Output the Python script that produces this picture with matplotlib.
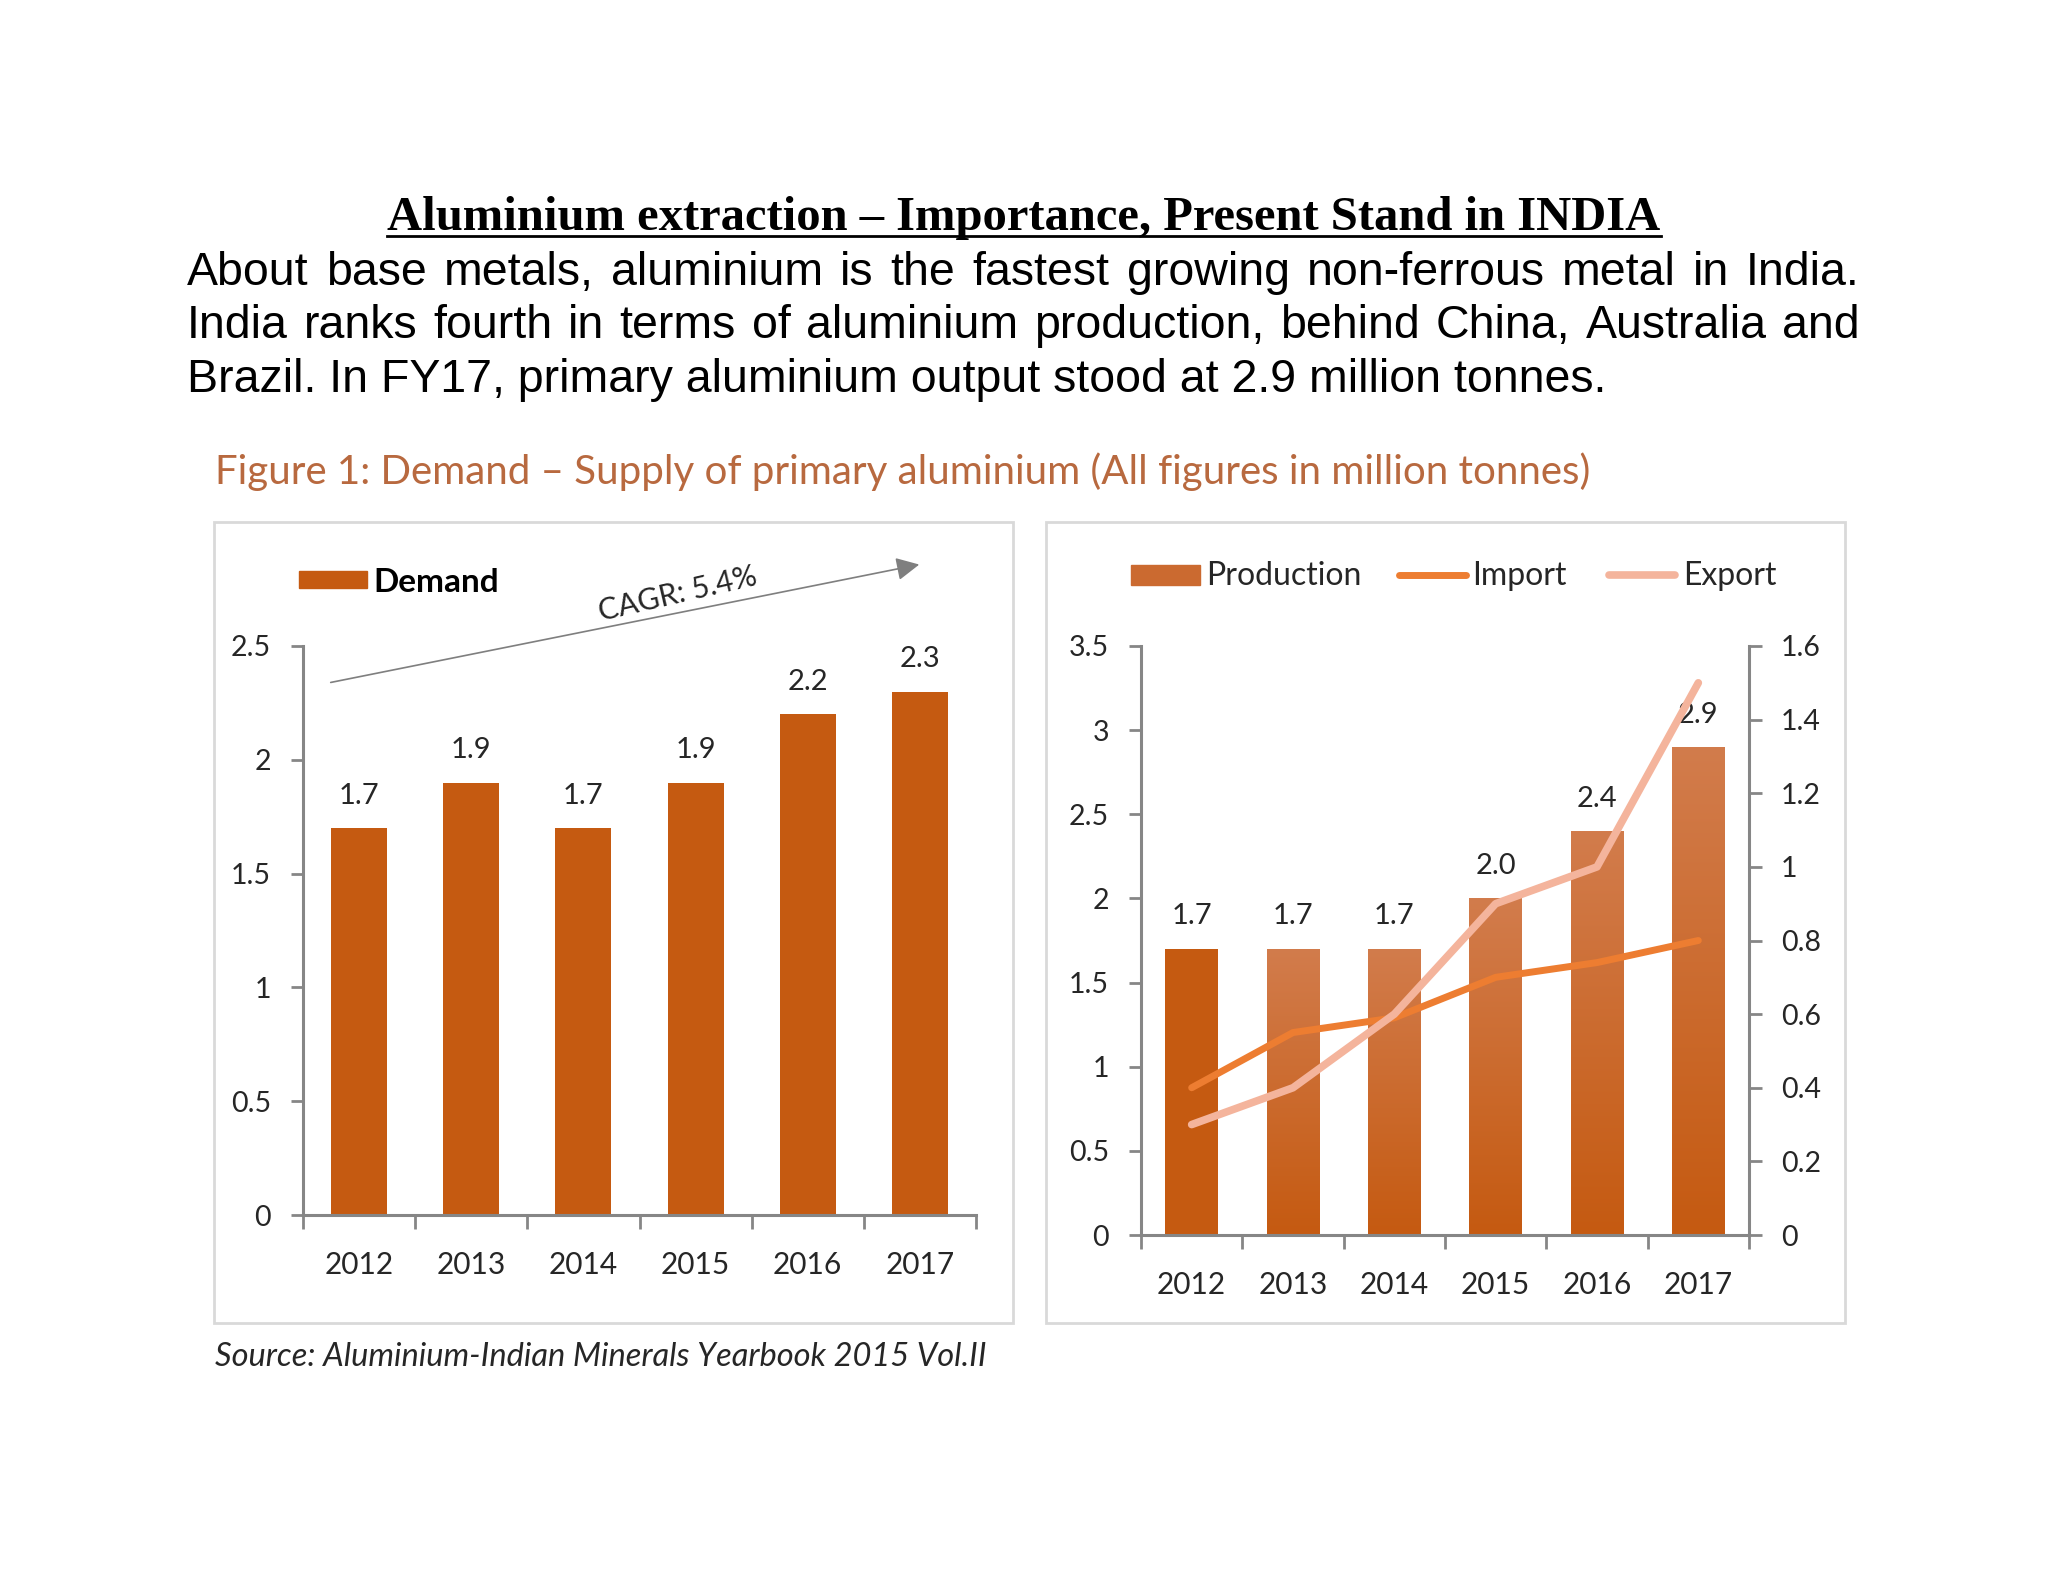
import numpy as np
import matplotlib
matplotlib.use('Agg')
import matplotlib.pyplot as plt
from matplotlib.patches import Rectangle
from matplotlib.lines import Line2D

# ---- data ----
years = ['2012', '2013', '2014', '2015', '2016', '2017']
demand = [1.7, 1.9, 1.7, 1.9, 2.2, 2.3]
production = [1.7, 1.7, 1.7, 2.0, 2.4, 2.9]
imports = [0.40, 0.55, 0.59, 0.70, 0.74, 0.80]
exports = [0.30, 0.40, 0.60, 0.90, 1.00, 1.50]
demand_ticks = [0, 0.5, 1, 1.5, 2, 2.5]
prod_ticks = [0, 0.5, 1, 1.5, 2, 2.5, 3, 3.5]
trade_ticks = [0, 0.2, 0.4, 0.6, 0.8, 1, 1.2, 1.4, 1.6]

title = 'Aluminium extraction \u2013 Importance, Present Stand in INDIA'
para = ['About base metals, aluminium is the fastest growing non-ferrous metal in India.',
        'India ranks fourth in terms of aluminium production, behind China, Australia and',
        'Brazil. In FY17, primary aluminium output stood at 2.9 million tonnes.']
caption = 'Figure 1: Demand \u2013 Supply of primary aluminium (All figures in million tonnes)'
source = 'Source: Aluminium-Indian Minerals Yearbook 2015 Vol.II'

BAR = '#C55A11'
BAR_LIGHT = '#D27C4C'
IMP = '#ED7D31'
EXP = '#F4B49C'
AXC = '#868686'
TXT = '#262626'
CF = 'Lato'

W, H = 2048, 1582
fig = plt.figure(figsize=(W / 100, H / 100), dpi=100)
fig.patch.set_facecolor('white')

def fx(px):
    return px / W

def fy(py):
    return 1 - py / H

# ---- header text ----
t = fig.text(0.5, fy(230), title, ha='center', va='baseline', fontsize=35,
             fontweight='bold', family='Liberation Serif', color='black')
fig.canvas.draw()
r = fig.canvas.get_renderer()
bb = t.get_window_extent(r)
fig.add_artist(Line2D([bb.x0 / W, bb.x1 / W], [fy(236), fy(236)], color='black', lw=2))

# justified paragraph
left, right = 187, 1860
for i, line in enumerate(para):
    yb = fy(285 + i * 53.5)
    words = line.split(' ')
    if i == len(para) - 1:
        fig.text(fx(left), yb, line, fontsize=33.5, family='Liberation Sans', va='baseline')
        continue
    arts = [fig.text(0, yb, w, fontsize=33.5, family='Liberation Sans', va='baseline') for w in words]
    widths = [a.get_window_extent(r).width for a in arts]
    gap = (right - left - sum(widths)) / (len(words) - 1)
    x = left
    for a, w in zip(arts, widths):
        a.set_x(fx(x))
        x += w + gap

fig.text(fx(215), fy(484), caption, fontsize=29, family=CF, color='#B8693F')
fig.text(fx(215), fy(1366), source, fontsize=23.5, family=CF, style='italic', color=TXT)

# panel frames
for x0 in (214, 1046):
    fig.add_artist(Rectangle((fx(x0), fy(1323)), 799 / W, 801 / H, transform=fig.transFigure,
                             fill=False, edgecolor='#D9D9D9', lw=2))

def style_axis(ax, ticks, fmt):
    ax.set_xlim(-0.5, 5.5)
    for s in ('top', 'right'):
        ax.spines[s].set_visible(False)
    for s in ('left', 'bottom'):
        ax.spines[s].set_color(AXC)
        ax.spines[s].set_linewidth(2.2)
    ax.set_yticks(ticks)
    ax.set_yticklabels([fmt(v) for v in ticks], family=CF, fontsize=20.5, color=TXT)
    ax.set_xticks(np.arange(-0.5, 6, 1))
    ax.set_xticklabels([])
    ax.set_xticks(range(6), minor=True)
    ax.set_xticklabels(years, minor=True, family=CF, fontsize=21.5, color=TXT)
    ax.tick_params(axis='x', which='major', length=10, width=2, color=AXC, direction='out')
    ax.tick_params(axis='x', which='minor', length=0, pad=26)
    ax.tick_params(axis='y', length=9, width=2, color=AXC, pad=14)

def num(v):
    return ('%g' % v)

# ---- left chart: demand ----
ax1 = fig.add_axes([fx(303), fy(1215), fx(976) - fx(303), fy(646) - fy(1215)])
ax1.bar(range(6), demand, width=0.5, color=BAR, zorder=2)
ax1.set_ylim(0, 2.5)
style_axis(ax1, demand_ticks, num)
for i, v in enumerate(demand):
    ax1.annotate('%.1f' % v, (i, v), xytext=(0, 14), textcoords='offset points',
                 ha='center', va='bottom', family=CF, fontsize=21, color=TXT)

fig.add_artist(Rectangle((fx(299), fy(588)), 68 / W, 17 / H, transform=fig.transFigure,
                         color=BAR))
fig.text(fx(373), fy(582), 'Demand', fontsize=24, family=CF, fontweight='bold',
         color='black', va='center')

fig.add_artist(matplotlib.patches.FancyArrowPatch(
    (fx(328), fy(683)), (fx(922), fy(564)), transform=fig.transFigure,
    arrowstyle='-|>,head_length=14,head_width=7', color='#7F7F7F', lw=1.2))
fig.text(fx(678), fy(594), 'CAGR: 5.4%', fontsize=21.5, family=CF, color=TXT,
         rotation=13, ha='center', va='center', rotation_mode='anchor')

# ---- right chart: production / import / export ----
ax2 = fig.add_axes([fx(1141), fy(1235), fx(1749) - fx(1141), fy(646) - fy(1235)])
ax2.set_ylim(0, 3.5)
bars = ax2.bar(range(6), production, width=0.52, color=BAR, zorder=2)
grad = np.linspace(0, 1, 256).reshape(-1, 1)
cmap = matplotlib.colors.LinearSegmentedColormap.from_list('g', [BAR, BAR_LIGHT])
for i, b in enumerate(bars):
    if i == 0:
        continue
    b.set_facecolor('none')
    im = ax2.imshow(grad, cmap=cmap, origin='lower', aspect='auto', zorder=2,
                    extent=[b.get_x(), b.get_x() + b.get_width(), 0, b.get_height()])
    im.set_clip_path(b)
ax2.set_xlim(-0.5, 5.5)
ax2.set_ylim(0, 3.5)
style_axis(ax2, prod_ticks, num)
for i, v in enumerate(production):
    ax2.annotate('%.1f' % v, (i, v), xytext=(0, 14), textcoords='offset points',
                 ha='center', va='bottom', family=CF, fontsize=21, color=TXT)

ax3 = ax2.twinx()
ax3.set_ylim(0, 1.6)
ax3.plot(range(6), imports, color=IMP, lw=5, solid_capstyle='round', zorder=3)
ax3.plot(range(6), exports, color=EXP, lw=5.5, solid_capstyle='round', zorder=4)
for s in ('top', 'left', 'bottom'):
    ax3.spines[s].set_visible(False)
ax3.spines['right'].set_color(AXC)
ax3.spines['right'].set_linewidth(2.2)
ax3.set_yticks(trade_ticks)
ax3.set_yticklabels([num(v) for v in trade_ticks], family=CF, fontsize=20.5, color=TXT)
ax3.tick_params(axis='y', length=9, width=2, color=AXC, pad=14)

# legend for right chart
fig.add_artist(Rectangle((fx(1131), fy(585)), 69 / W, 20 / H, transform=fig.transFigure,
                         color='#CB6A30'))
fig.text(fx(1206), fy(576), 'Production', fontsize=23, family=CF, color=TXT, va='center')
fig.add_artist(Line2D([fx(1399), fx(1466)], [fy(575), fy(575)], color=IMP, lw=5,
                      solid_capstyle='round'))
fig.text(fx(1472), fy(576), 'Import', fontsize=23, family=CF, color=TXT, va='center')
fig.add_artist(Line2D([fx(1609), fx(1675)], [fy(575), fy(575)], color=EXP, lw=5.5,
                      solid_capstyle='round'))
fig.text(fx(1683), fy(576), 'Export', fontsize=23, family=CF, color=TXT, va='center')

fig.savefig('out.png', dpi=100)
